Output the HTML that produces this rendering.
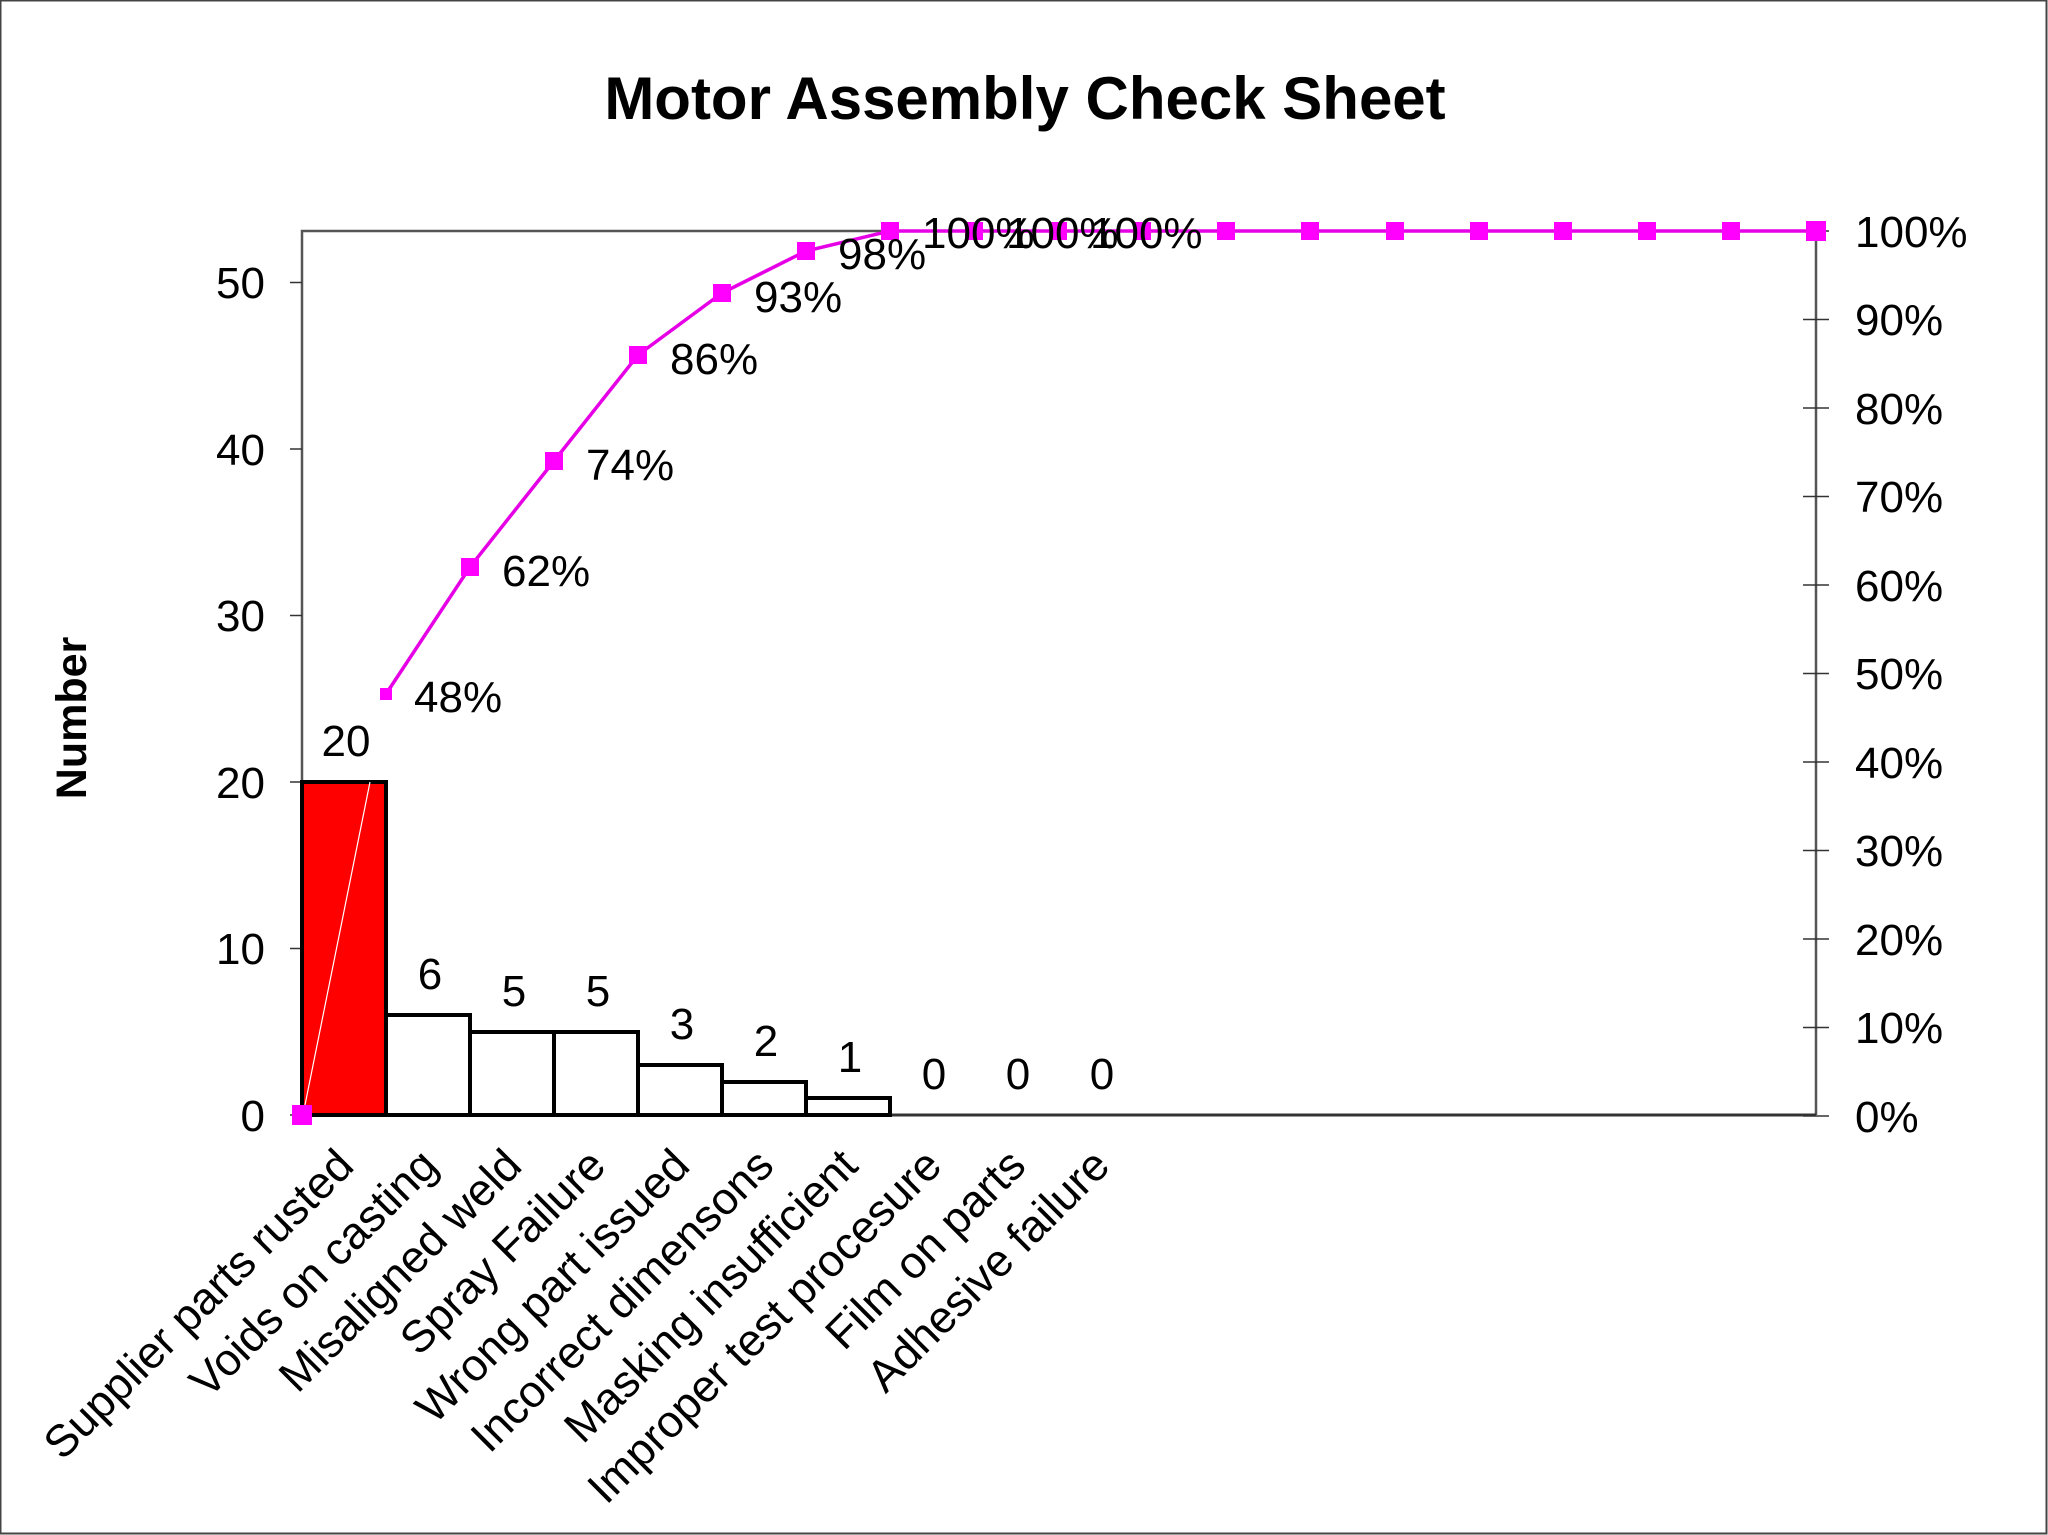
<!DOCTYPE html>
<html><head><style>
html,body{margin:0;padding:0;background:#fff}
svg{display:block}
text{font-family:"Liberation Sans",Arial,sans-serif;fill:#000}
</style></head><body>
<svg width="2048" height="1535" viewBox="0 0 2048 1535" xmlns="http://www.w3.org/2000/svg">
<rect x="0.5" y="0.5" width="2046" height="1533" fill="#fff" stroke="#444" stroke-width="2"/>
<text x="1025" y="119" font-size="60" font-weight="bold" text-anchor="middle">Motor Assembly Check Sheet</text>
<text transform="translate(86,718) rotate(-90)" font-size="43" font-weight="bold" text-anchor="middle">Number</text>
<polyline points="302,1115 302,231 1816,231 1816,1115" fill="none" stroke="#555" stroke-width="2.5"/>
<line x1="302" y1="1115" x2="1816" y2="1115" stroke="#333" stroke-width="3"/>
<g stroke="#333" stroke-width="1.5">
<line x1="290" y1="1115" x2="302" y2="1115"/><line x1="290" y1="948.5" x2="302" y2="948.5"/>
<line x1="290" y1="782" x2="302" y2="782"/><line x1="290" y1="615.5" x2="302" y2="615.5"/>
<line x1="290" y1="449" x2="302" y2="449"/><line x1="290" y1="282.5" x2="302" y2="282.5"/>
</g>
<g font-size="44" text-anchor="end">
<text x="265" y="1131">0</text><text x="265" y="964">10</text><text x="265" y="798">20</text>
<text x="265" y="631">30</text><text x="265" y="465">40</text><text x="265" y="298">50</text>
</g>
<g stroke="#333" stroke-width="1.5">
<line x1="1803" y1="1116" x2="1829" y2="1116"/><line x1="1803" y1="1027.5" x2="1829" y2="1027.5"/>
<line x1="1803" y1="939" x2="1829" y2="939"/><line x1="1803" y1="850.5" x2="1829" y2="850.5"/>
<line x1="1803" y1="762" x2="1829" y2="762"/><line x1="1803" y1="673.5" x2="1829" y2="673.5"/>
<line x1="1803" y1="585" x2="1829" y2="585"/><line x1="1803" y1="496.5" x2="1829" y2="496.5"/>
<line x1="1803" y1="408" x2="1829" y2="408"/><line x1="1803" y1="319.5" x2="1829" y2="319.5"/>
<line x1="1803" y1="231" x2="1829" y2="231"/>
</g>
<g font-size="44">
<text x="1855" y="1132">0%</text><text x="1855" y="1043">10%</text><text x="1855" y="955">20%</text>
<text x="1855" y="866">30%</text><text x="1855" y="778">40%</text><text x="1855" y="689">50%</text>
<text x="1855" y="601">60%</text><text x="1855" y="512">70%</text><text x="1855" y="424">80%</text>
<text x="1855" y="335">90%</text><text x="1855" y="247">100%</text>
</g>
<g stroke="#000" stroke-width="4">
<rect x="302" y="782" width="84" height="333" fill="#ff0000"/>
<rect x="386" y="1015" width="84" height="100" fill="#fff"/>
<rect x="470" y="1032" width="84" height="83" fill="#fff"/>
<rect x="554" y="1032" width="84" height="83" fill="#fff"/>
<rect x="638" y="1065" width="84" height="50" fill="#fff"/>
<rect x="722" y="1082" width="84" height="33" fill="#fff"/>
<rect x="806" y="1098" width="84" height="17" fill="#fff"/>
</g>
<line x1="303" y1="1115" x2="370" y2="782" stroke="#fff" stroke-width="1.2"/>
<g font-size="44" text-anchor="middle">
<text x="346" y="756">20</text><text x="430" y="989">6</text><text x="514" y="1006">5</text>
<text x="598" y="1006">5</text><text x="682" y="1039">3</text><text x="766" y="1056">2</text>
<text x="850" y="1072">1</text><text x="934" y="1089">0</text><text x="1018" y="1089">0</text>
<text x="1102" y="1089">0</text>
</g>
<polyline fill="none" stroke="#e600e6" stroke-width="3.5" points="386,694 470,567 554,461 638,355 722,293 806,251 890,231 974,231 1058,231 1142,231 1226,231 1310,231 1395,231 1479,231 1563,231 1647,231 1731,231 1816,231"/>
<g fill="#ff00ff">
<rect x="292" y="1105" width="20" height="20"/>
<rect x="380" y="688" width="12" height="12"/>
<rect x="461" y="558" width="18" height="18"/><rect x="545" y="452" width="18" height="18"/>
<rect x="629" y="346" width="18" height="18"/><rect x="713" y="284" width="18" height="18"/>
<rect x="797" y="242" width="18" height="18"/><rect x="881" y="222" width="18" height="18"/>
<rect x="965" y="222" width="18" height="18"/><rect x="1049" y="222" width="18" height="18"/>
<rect x="1133" y="222" width="18" height="18"/><rect x="1217" y="222" width="18" height="18"/>
<rect x="1301" y="222" width="18" height="18"/><rect x="1386" y="222" width="18" height="18"/>
<rect x="1470" y="222" width="18" height="18"/><rect x="1554" y="222" width="18" height="18"/>
<rect x="1638" y="222" width="18" height="18"/><rect x="1722" y="222" width="18" height="18"/>
<rect x="1806" y="221" width="20" height="20"/>
</g>
<g font-size="44">
<text x="414" y="712">48%</text><text x="502" y="586">62%</text><text x="586" y="480">74%</text>
<text x="670" y="374">86%</text><text x="754" y="312">93%</text><text x="838" y="269">98%</text>
<text x="922" y="248">100%</text><text x="1006" y="248">100%</text><text x="1090" y="248">100%</text>
</g>
<g font-size="45" text-anchor="end">
<text transform="translate(356,1168) rotate(-45)">Supplier parts rusted</text>
<text transform="translate(440,1168) rotate(-45)">Voids on casting</text>
<text transform="translate(524,1168) rotate(-45)">Misaligned weld</text>
<text transform="translate(608,1168) rotate(-45)">Spray Failure</text>
<text transform="translate(692,1168) rotate(-45)">Wrong part issued</text>
<text transform="translate(776,1168) rotate(-45)">Incorrect dimensons</text>
<text transform="translate(860,1168) rotate(-45)">Masking insufficient</text>
<text transform="translate(944,1168) rotate(-45)">Improper test procesure</text>
<text transform="translate(1028,1168) rotate(-45)">Film on parts</text>
<text transform="translate(1112,1168) rotate(-45)">Adhesive failure</text>
</g>
</svg>
</body></html>
